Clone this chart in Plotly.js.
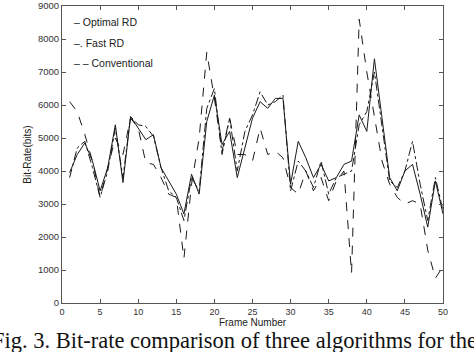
<!DOCTYPE html>
<html>
<head>
<meta charset="utf-8">
<script src="https://cdn.plot.ly/plotly-3.0.1.min.js"></script>
<style>
html,body{margin:0;padding:0;background:#fff;}
#chart{width:474px;height:352px;}
</style>
</head>
<body>
<div id="chart"></div>
<script>
const frames = [1,2,3,4,5,6,7,8,9,10,11,12,13,14,15,16,17,18,19,20,21,22,23,24,25,26,27,28,29,30,31,32,33,34,35,36,37,38,39,40,41,42,43,44,45,46,47,48,49,50];
const optimalRD = [3950,4500,4850,4300,3400,4100,5400,3650,5650,5300,4950,5100,4100,3700,3300,2700,3900,3300,5500,6300,4800,5200,3800,4700,5600,6100,5900,6200,6200,3600,4900,4400,3800,4200,3700,3800,4200,4300,5700,5200,7400,5600,3800,3400,4000,4200,3300,2300,3700,2700];
const fastRD = [3800,4700,4900,4100,3200,4000,5300,3800,5650,5400,5350,5050,4100,3400,3200,2500,3800,3400,5900,6500,4500,5600,4000,5200,5700,6400,6000,6100,6300,3400,4300,4000,3500,4300,3300,3800,3900,4000,5400,5800,7000,5400,3700,3500,4000,4900,3600,2500,3800,2800];
const conventional = [6100,5800,5100,4300,3200,4100,5000,4500,5600,5300,4250,4200,3800,3300,3200,1350,3600,5000,7600,6200,4600,5600,4500,4500,4300,5300,4500,4600,4400,3500,3300,4000,3400,3800,3100,3700,4000,900,8600,7000,5600,4300,3600,3200,3000,3100,3000,1600,750,1100];
const seriesNames = ["Optimal RD","Fast RD","Conventional"];
const legendMarks = ["\u2013","\u2013.","\u2013 \u2013"];
const xTicks = [0,5,10,15,20,25,30,35,40,45,50];
const yTicks = [0,1000,2000,3000,4000,5000,6000,7000,8000,9000];
const xTitle = "Frame Number";
const yTitle = "Bit-Rate(bits)";
const caption = "Fig. 3. Bit-rate comparison of three algorithms for the";

const lineColor = '#1a1a1a';
const traces = [
  {x: frames, y: optimalRD, name: seriesNames[0], mode: 'lines', line: {color: lineColor, width: 1, dash: 'solid'}},
  {x: frames, y: fastRD, name: seriesNames[1], mode: 'lines', line: {color: lineColor, width: 1, dash: 'dashdot'}},
  {x: frames, y: conventional, name: seriesNames[2], mode: 'lines', line: {color: lineColor, width: 1, dash: 'dash'}}
];

const sans = 'Liberation Sans, Arial, sans-serif';
const axisCommon = {
  showgrid: false, zeroline: false, showline: true, linecolor: '#555', linewidth: 1,
  mirror: 'ticks', ticks: 'inside', ticklen: 4, tickcolor: '#555'
};

const annotations = seriesNames.map((n, i) => ({
  xref: 'paper', yref: 'paper', x: 0.026, y: 0.945 - i * 0.068,
  xanchor: 'left', yanchor: 'middle', showarrow: false,
  text: legendMarks[i] + ' ' + n,
  font: {family: sans, size: 10.5, color: '#222'}
}));
annotations.push({
  xref: 'paper', yref: 'paper', x: 0.454, y: -0.126,
  xanchor: 'center', yanchor: 'middle', showarrow: false,
  text: caption,
  font: {family: 'Liberation Serif, Times New Roman, serif', size: 22.5, color: '#111'}
});

const layout = {
  width: 474, height: 352,
  margin: {l: 62, r: 31, t: 6, b: 49},
  paper_bgcolor: '#fff', plot_bgcolor: '#fff',
  showlegend: false,
  xaxis: Object.assign({}, axisCommon, {
    range: [0, 50], tickvals: xTicks, ticktext: xTicks.map(String),
    tickfont: {family: sans, size: 9, color: '#333'},
    title: {text: xTitle, standoff: 0, font: {family: sans, size: 10, color: '#222'}}
  }),
  yaxis: Object.assign({}, axisCommon, {
    range: [0, 9000], tickvals: yTicks, ticktext: yTicks.map(String),
    tickfont: {family: sans, size: 9.5, color: '#333'},
    title: {text: yTitle, standoff: 4, font: {family: sans, size: 10, color: '#222'}}
  }),
  annotations: annotations
};

Plotly.newPlot('chart', traces, layout, {staticPlot: true, displayModeBar: false});
</script>
</body>
</html>
